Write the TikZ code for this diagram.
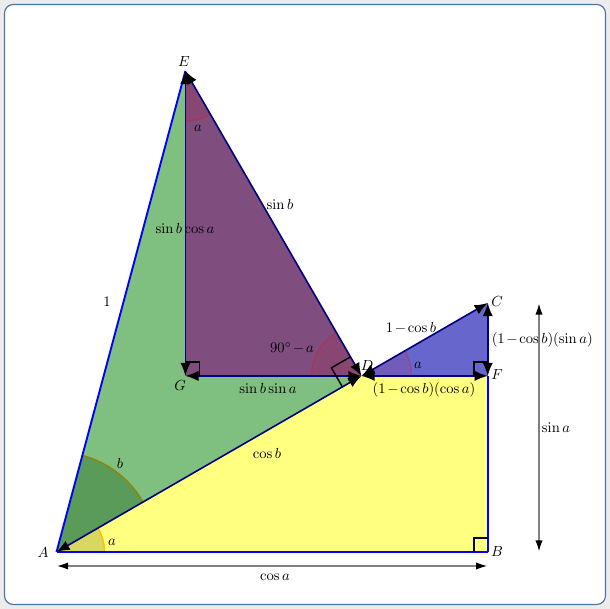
\documentclass[tikz,border=0pt]{standalone}
\usetikzlibrary{arrows.meta,calc}
\definecolor{bgc}{RGB}{236,236,236}
\definecolor{framec}{RGB}{80,115,165}
\definecolor{navyc}{RGB}{0,0,128}
\definecolor{bluec}{RGB}{0,0,255}
\definecolor{greenf}{RGB}{127,191,127}
\definecolor{purplef}{RGB}{127,78,127}
\definecolor{bluef}{RGB}{102,102,204}
\definecolor{yellowf}{RGB}{255,255,128}
\definecolor{angAf}{RGB}{216,216,96}
\definecolor{angAd}{RGB}{255,192,0}
\definecolor{angBf}{RGB}{90,155,90}
\definecolor{angBd}{RGB}{150,130,0}
\definecolor{dimc}{RGB}{128,128,128}
\begin{document}
\begin{tikzpicture}[x=0.685pt,y=0.685pt,
  seg/.style={draw=navyc, line width=1.1pt, {Latex[black,length=9pt,width=7pt]}-{Latex[black,length=9pt,width=7pt]}},
  bline/.style={draw=bluec, line width=1.3pt},
  dimline/.style={draw=dimc, line width=1.3pt, {Latex[black,length=8pt,width=5pt]}-{Latex[black,length=8pt,width=5pt]}},
  rmark/.style={draw=black, line width=1pt},
  redfill/.style={fill=red, fill opacity=0.09},
  redarc/.style={draw=red, draw opacity=0.25, line width=0.9pt},
  lbl/.style={inner sep=1pt, execute at begin node={\medmuskip=2mu}},
  pt/.style={inner sep=1pt}]
\useasboundingbox (0,0) rectangle (610,609);
\fill[bgc] (0,0) rectangle (610,609);
\draw[framec, fill=white, line width=0.8pt, rounded corners=6pt] (4.5,4.5) rectangle (605.5,604.5);
% points
\coordinate (A) at (56.5,57);
\coordinate (B) at (487.78,57);
\coordinate (C) at (487.78,306);
\coordinate (D) at (361.46,233.07);
\coordinate (E) at (185.39,538.03);
\coordinate (F) at (487.78,233.07);
\coordinate (G) at (185.39,233.07);
% fills
\fill[yellowf] (A) -- (B) -- (F) -- (D) -- cycle;
\fill[greenf] (A) -- (D) -- (E) -- cycle;
\fill[purplef] (E) -- (G) -- (D) -- cycle;
\fill[bluef] (D) -- (F) -- (C) -- cycle;
% angles
\fill[angBf] (A) -- ++(30:100) arc[start angle=30,end angle=75,radius=100] -- cycle;
\draw[angBd, line width=0.9pt] (A) ++(30:100) arc[start angle=30,end angle=75,radius=100];
\fill[angAf] (A) -- ++(0:48) arc[start angle=0,end angle=30,radius=48] -- cycle;
\draw[angAd, line width=0.9pt] (A) ++(0:48) arc[start angle=0,end angle=30,radius=48];
\path[redfill] (E) -- ++(-90:50) arc[start angle=-90,end angle=-60,radius=50] -- cycle;
\draw[redarc] (E) ++(-90:50) arc[start angle=-90,end angle=-60,radius=50];
\path[redfill] (D) -- ++(120:50) arc[start angle=120,end angle=180,radius=50] -- cycle;
\draw[redarc] (D) ++(120:50) arc[start angle=120,end angle=180,radius=50];
\path[redfill] (D) -- ++(0:50) arc[start angle=0,end angle=30,radius=50] -- cycle;
\draw[redarc] (D) ++(0:50) arc[start angle=0,end angle=30,radius=50];
% labels
\node[lbl] (l1) at (107,307) {$1$};
\node[lbl] (lsbca) at (185,381) {$\sin b\cos a$};
\node[lbl] (lsb) at (280,405) {$\sin b$};
\node[lbl] (l90) at (292,261) {$90^\circ - a$};
\node[lbl] (lsbsa) at (268,221) {$\sin b\sin a$};
\node[lbl] (lcb) at (267,156) {$\cos b$};
\node[lbl] (l1cb) at (411,281) {$1-\cos b$};
\node[lbl, anchor=west] (lfc) at (490,269) {$(1-\cos b)(\sin a)$};
\node[lbl] (ldf) at (424,219) {$(1-\cos b)(\cos a)$};
\node[lbl] (lsa) at (556,181) {$\sin a$};
\node[lbl] (lca) at (275,32) {$\cos a$};
\node[lbl] (laE) at (198,481) {$a$};
\node[lbl] (laD) at (418,244) {$a$};
\node[lbl] (lbA) at (120,146) {$b$};
\node[lbl] (laA) at (112,67) {$a$};
% blue lines
\draw[bline] (A) -- (E);
\draw[bline] (A) -- (B);
\draw[bline] (B) -- (F);
% navy segments
\draw[seg] (E) -- (D);
\draw[seg] (E) -- (G);
\draw[seg] (G) -- (D);
\draw[seg] (D) -- (F);
\draw[seg] (F) -- (C);
\draw[seg] (D) -- (C);
\draw[seg] (A) -- (D);
% right angle marks
\draw[rmark] ($(G)+(0,14)$) -- ++(14,0) -- ++(0,-14);
\draw[rmark] ($(F)+(0,14)$) -- ++(-14,0) -- ++(0,-14);
\draw[rmark] ($(B)+(0,14)$) -- ++(-14,0) -- ++(0,-14);
\draw[rmark] ($(D)+(120:22)$) -- ++(210:22) -- ++(300:22);
% dimension lines
\coordinate (cL) at (56.5,43);
\coordinate (cR) at (487.78,43);
\coordinate (sB) at (539,57);
\coordinate (sT) at (539,306);
\draw[dimline] (cL) -- (cR);
\draw[dimline] (sB) -- (sT);
% point labels
\node[pt] (nE) at (184,547) {$E$};
\node[pt] (nG) at (180,223) {$G$};
\node[pt] (nD) at (367,243) {$D$};
\node[pt] (nC) at (497,307) {$C$};
\node[pt] (nF) at (497,234) {$F$};
\node[pt] (nB) at (497,57) {$B$};
\node[pt] (nA) at (43,56) {$A$};
\end{tikzpicture}
\end{document}
